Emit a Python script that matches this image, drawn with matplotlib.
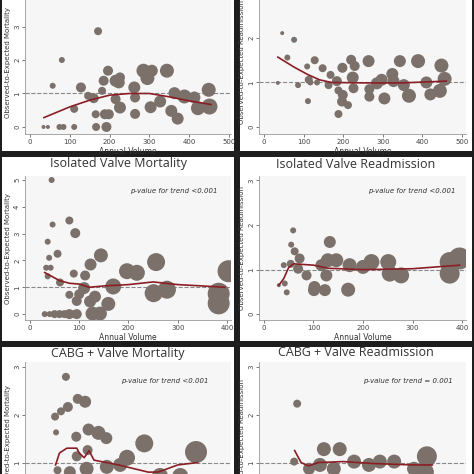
import matplotlib
matplotlib.use("Agg")
import matplotlib.pyplot as plt
from matplotlib.patches import Rectangle
import numpy as np

# ---- data: (annual volume, O/E ratio, bubble radius in px) ----
cabg_mort_x = [171, 80, 57, 128, 196, 185, 215, 226, 223, 146, 160, 181, 111, 165, 188, 198, 215, 226,
               262, 264, 264, 285, 306, 295, 344, 303, 327, 363, 355, 371, 388, 413, 422, 449, 451,
               34, 45, 74, 84, 111, 166, 192]
cabg_mort_y = [2.86, 2.0, 1.23, 1.18, 1.68, 1.38, 1.38, 1.48, 1.33, 0.93, 0.86, 1.08, 0.54, 0.38, 0.38, 0.38, 0.83, 0.58,
               1.18, 0.88, 0.39, 1.68, 1.68, 1.46, 1.68, 0.59, 0.76, 1.01, 0.48, 0.25, 0.91, 0.88, 0.56, 1.11, 0.61,
               0, 0, 0, 0, 0, 0, 0]
cabg_mort_w = [4, 3, 3, 5, 5, 5, 6, 5, 6, 4, 5, 4, 4, 4, 5, 5, 5, 6,
               6, 5, 5, 7, 6, 7, 7, 6, 6, 6, 6, 6, 7, 6, 7, 7, 8,
               2, 2, 3, 3, 3, 4, 5]
cabg_mort_fit_x = [35, 100, 150, 200, 250, 300, 350, 400, 455]
cabg_mort_fit_y = [0.28, 0.6, 0.8, 0.95, 1.0, 1.0, 0.9, 0.78, 0.67]

cabg_readm_x = [46, 76, 59, 35, 86, 109, 128, 113, 117, 134, 148, 111, 168, 163, 184, 188, 199, 197, 212, 188,
                198, 220, 229, 224, 226, 264, 266, 266, 285, 297, 304, 324, 327, 343, 353, 366, 389, 410, 420,
                444, 448, 456]
cabg_readm_y = [2.11, 1.96, 1.56, 0.99, 0.94, 1.36, 1.5, 1.06, 1.0, 1.0, 1.32, 0.58, 1.17, 0.94, 1.03, 0.82, 0.72,
                0.57, 0.49, 0.29, 1.33, 1.51, 1.37, 1.11, 0.87, 1.48, 0.85, 0.68, 0.98, 1.06, 0.64, 1.19, 1.03,
                1.48, 0.94, 0.7, 1.48, 1.0, 0.73, 0.81, 1.38, 1.08]
cabg_readm_w = [2, 3, 3, 2, 3, 3, 4, 4, 3, 3, 4, 3, 4, 4, 5, 4, 5, 5, 4, 4,
                5, 5, 5, 6, 5, 6, 5, 5, 6, 6, 6, 6, 6, 6, 6, 7, 7, 6, 6,
                7, 7, 7]
cabg_readm_fit_x = [35, 75, 110, 140, 170, 250, 350, 460]
cabg_readm_fit_y = [1.57, 1.35, 1.18, 1.06, 1.0, 0.99, 0.99, 1.03]

valve_mort_x = [44, 46, 80, 92, 36, 39, 56, 33, 42, 36, 61, 89, 112, 123, 144, 80, 100, 95, 110, 122, 132,
                127, 142, 159, 169, 197, 217, 256, 251, 278, 383, 383, 403,
                30, 40, 50, 60, 70, 80, 90, 95]
valve_mort_y = [5.0, 3.34, 3.49, 3.02, 2.7, 2.1, 2.25, 1.73, 1.73, 1.41, 1.18, 1.51, 1.44, 1.85, 2.19, 0.72,
                0.74, 0.49, 0.97, 0.47, 0.65, 0.02, 0.02, 0.38, 1.03, 1.6, 1.54, 1.94, 0.78, 0.91, 0.76, 0.4, 1.6,
                0, 0, 0, 0, 0, 0, 0, 0]
valve_mort_w = [3, 3, 4, 5, 3, 3, 4, 3, 3, 3, 4, 4, 5, 6, 7, 4, 5, 5, 6, 6, 6,
                7, 7, 7, 8, 8, 8, 9, 9, 9, 11, 11, 11,
                3, 3, 4, 4, 4, 5, 4, 5]
valve_mort_fit_x = [30, 40, 60, 80, 100, 120, 150, 200, 250, 300, 350, 395]
valve_mort_fit_y = [1.55, 1.45, 1.25, 1.15, 1.12, 1.0, 1.05, 1.1, 1.2, 1.1, 1.05, 1.0]

valve_readm_x = [59, 55, 62, 30, 42, 46, 40, 54, 72, 69, 86, 102, 101, 116, 123, 133, 129, 126, 146, 170,
                 173, 200, 217, 251, 254, 277, 375, 375, 395]
valve_readm_y = [1.88, 1.56, 1.41, 0.65, 0.69, 0.49, 1.1, 1.13, 1.25, 1.02, 0.87, 0.61, 0.54, 1.1, 0.54, 1.62,
                 1.21, 0.87, 1.21, 0.55, 1.1, 1.06, 1.17, 1.17, 0.91, 0.87, 0.91, 1.17, 1.25]
valve_readm_w = [3, 3, 4, 2, 3, 3, 3, 4, 5, 5, 5, 6, 6, 6, 6, 6, 7, 6, 7, 7,
                 7, 7, 8, 8, 8, 8, 10, 10, 11]
valve_readm_fit_x = [30, 40, 50, 60, 100, 130, 200, 300, 395]
valve_readm_fit_y = [0.65, 0.8, 1.05, 1.13, 1.1, 1.03, 1.0, 1.02, 1.1]

combo_mort_x = [73, 97, 112, 77, 63, 51, 53, 94, 119, 139, 155, 117, 95, 197, 232, 337, 56, 81, 115, 156,
                183, 264, 305, 90, 140, 200]
combo_mort_y = [2.79, 2.33, 2.27, 2.16, 2.07, 1.96, 1.63, 1.54, 1.69, 1.62, 1.51, 1.26, 1.13, 1.1, 1.4, 1.22,
                0.84, 0.8, 0.87, 0.91, 0.95, 0.72, 0.72, 0.6, 0.6, 0.6]
combo_mort_w = [4, 5, 6, 5, 4, 4, 3, 5, 6, 7, 6, 5, 5, 8, 9, 11, 4, 6, 7, 7,
                7, 8, 8, 6, 7, 7]
combo_mort_fit_x = [52, 60, 75, 95, 100, 110, 120, 130, 180, 240, 260, 300, 340]
combo_mort_fit_y = [0.95, 1.2, 1.3, 1.3, 1.2, 1.1, 1.25, 1.05, 0.95, 0.8, 0.8, 0.95, 1.0]

combo_readm_x = [67, 61, 121, 113, 153, 182, 212, 234, 263, 303, 329, 325, 91, 141]
combo_readm_y = [2.23, 1.02, 1.28, 0.95, 1.28, 1.02, 0.95, 1.02, 1.02, 0.87, 1.13, 0.8, 0.87, 0.87]
combo_readm_w = [4, 4, 7, 7, 7, 7, 7, 7, 7, 7, 10, 9, 6, 7]
combo_readm_fit_x = [62, 75, 90, 110, 160, 220, 300, 340]
combo_readm_fit_y = [1.25, 1.0, 0.93, 1.0, 1.02, 0.98, 0.95, 0.95]

BUBBLE = "#7b716a"
LINE = "#8b1e24"
W = 474.0


def px_axes(fig, left, top, right, bottom):
    ax = fig.add_axes([left / W, 1 - bottom / W, (right - left) / W, (bottom - top) / W])
    ax.set_zorder(5)
    return ax


def panel(ax, xs, ys, ws, fx, fy, xlim, ylim, yticks, xticks, ylabel, ptxt, ptpos, xlabel=True):
    ax.set_facecolor("#f6f6f6")
    s = [2.07 * w * w for w in ws]
    ax.scatter(xs, ys, s=s, c=BUBBLE, edgecolors="none", zorder=2)
    ax.axhline(1, color="#888888", ls="--", lw=0.8, zorder=1)
    ax.plot(fx, fy, color=LINE, lw=1.2, zorder=3)
    ax.set_xlim(*xlim)
    ax.set_ylim(*ylim)
    ax.set_xticks(xticks)
    ax.set_yticks(yticks)
    ax.set_yticklabels([str(t) for t in yticks], rotation=90, va="center")
    ax.tick_params(labelsize=5, length=2, width=0.5, colors="#444444", pad=1.5)
    for sp in ["top", "right"]:
        ax.spines[sp].set_visible(False)
    for sp in ["left", "bottom"]:
        ax.spines[sp].set_color("#999999")
        ax.spines[sp].set_linewidth(0.6)
    ax.set_ylabel(ylabel, fontsize=5, color="#333333", labelpad=2)
    if xlabel:
        ax.set_xlabel("Annual Volume", fontsize=5.5, color="#333333", labelpad=1.5)
    ax.text(ptpos[0], ptpos[1], ptxt, transform=ax.transAxes, fontsize=5, style="italic",
            color="#333333", ha="center")


fig = plt.figure(figsize=(4.74, 4.74), dpi=100)
fig.patch.set_facecolor("#1e1e1e")
for (l, t, r, b) in [(2, -5, 234, 151), (240, -5, 472, 151), (2, 157, 234, 341), (240, 157, 472, 341),
                     (2, 347, 234, 480), (240, 347, 472, 480)]:
    fig.patches.append(Rectangle((l / W, 1 - b / W), (r - l) / W, (b - t) / W, transform=fig.transFigure,
                                 facecolor="white", edgecolor="none", zorder=0))

# top row (titles cut off)
ax = px_axes(fig, 25, -10, 231, 134)
panel(ax, cabg_mort_x, cabg_mort_y, cabg_mort_w, cabg_mort_fit_x, cabg_mort_fit_y,
      (-12.6, 505), (-0.21, 4.09), [0, 1, 2, 3], [0, 100, 200, 300, 400, 500],
      "Observed-to-Expected Mortality", "p-value for trend <0.001", (0.75, 0.965))
ax = px_axes(fig, 259, -10, 466, 134)
panel(ax, cabg_readm_x, cabg_readm_y, cabg_readm_w, cabg_readm_fit_x, cabg_readm_fit_y,
      (-12.6, 510), (-0.16, 3.08), [0, 1, 2], [0, 100, 200, 300, 400, 500],
      "Observed-to-Expected Readmission", "p-value for trend = 0.001", (0.78, 0.965))

# middle row
fig.text(118 / W, 1 - 164 / W, "Isolated Valve Mortality", fontsize=9, color="#333333",
         ha="center", va="center", family="Open Sans")
fig.text(356 / W, 1 - 164 / W, "Isolated Valve Readmission", fontsize=9, color="#333333",
         ha="center", va="center", family="Open Sans")
ax = px_axes(fig, 25, 176, 231, 320)
panel(ax, valve_mort_x, valve_mort_y, valve_mort_w, valve_mort_fit_x, valve_mort_fit_y,
      (-10, 408), (-0.22, 5.15), [0, 1, 2, 3, 4, 5], [0, 100, 200, 300, 400],
      "Observed-to-Expected Mortality", "p-value for trend <0.001", (0.72, 0.88))
ax = px_axes(fig, 259, 176, 466, 320)
panel(ax, valve_readm_x, valve_readm_y, valve_readm_w, valve_readm_fit_x, valve_readm_fit_y,
      (-10, 408), (-0.13, 3.1), [0, 1, 2, 3], [0, 100, 200, 300, 400],
      "Observed-to-Expected Readmission", "p-value for trend <0.001", (0.74, 0.88))

# bottom row (cut off)
fig.text(118 / W, 1 - 353 / W, "CABG + Valve Mortality", fontsize=9, color="#333333",
         ha="center", va="center", family="Open Sans")
fig.text(356 / W, 1 - 353 / W, "CABG + Valve Readmission", fontsize=9, color="#333333",
         ha="center", va="center", family="Open Sans")
ax = px_axes(fig, 25, 362, 231, 520)
panel(ax, combo_mort_x, combo_mort_y, combo_mort_w, combo_mort_fit_x, combo_mort_fit_y,
      (-10, 408), (-0.2, 3.1), [0, 1, 2, 3], [0, 100, 200, 300, 400],
      "Observed-to-Expected Mortality", "p-value for trend <0.001", (0.68, 0.87), xlabel=False)
ax = px_axes(fig, 259, 362, 466, 520)
panel(ax, combo_readm_x, combo_readm_y, combo_readm_w, combo_readm_fit_x, combo_readm_fit_y,
      (-10, 408), (-0.2, 3.1), [0, 1, 2, 3], [0, 100, 200, 300, 400],
      "Observed-to-Expected Readmission", "p-value for trend = 0.001", (0.72, 0.87), xlabel=False)

fig.savefig("out.png", dpi=100, facecolor=fig.get_facecolor())
